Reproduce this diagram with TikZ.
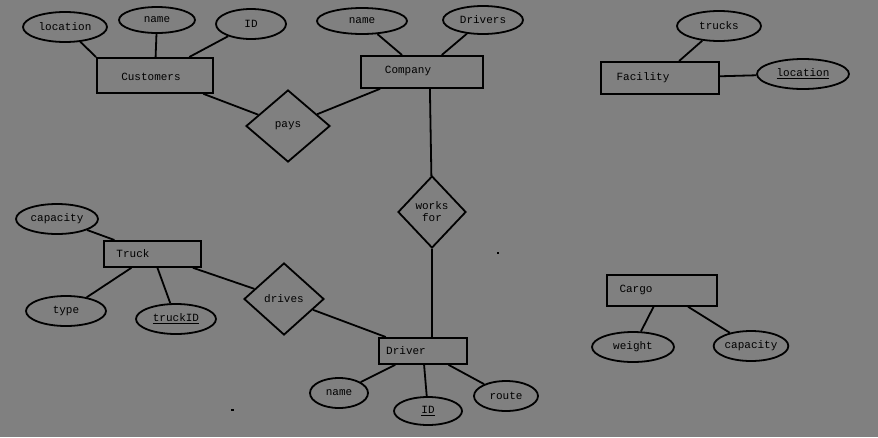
\documentclass[tikz,border=0pt]{standalone}
\usepackage{fontspec}
\setmonofont{Liberation Mono}
\usetikzlibrary{shapes.geometric}
\definecolor{bg}{HTML}{808080}
\begin{document}
\begin{tikzpicture}[x=1pt,y=-1pt,line width=1.8pt,
  every node/.style={font=\ttfamily\fontsize{11}{12}\selectfont,inner sep=0pt},
  ent/.style={draw,rectangle,anchor=north west},
  att/.style={draw,ellipse},
  rel/.style={draw,diamond}]
\fill[bg] (0,0) rectangle (878,437);
\useasboundingbox (0,0) rectangle (878,437);
% entities
\node[ent,minimum width=116pt,minimum height=35pt] (cust) at (96,57) {};
\node at (151,77) {Customers};
\node[ent,minimum width=122pt,minimum height=32pt] (comp) at (360,55) {};
\node at (408,71) {Company};
\node[ent,minimum width=118pt,minimum height=32pt] (fac) at (600,61) {};
\node at (643,78) {Facility};
\node[ent,minimum width=97pt,minimum height=26pt] (truck) at (103,240) {};
\node at (133,254) {Truck};
\node[ent,minimum width=88pt,minimum height=26pt] (drv) at (378,337) {};
\node at (406,351) {Driver};
\node[ent,minimum width=110pt,minimum height=31pt] (cargo) at (606,274) {};
\node at (636,290) {Cargo};
% attributes
\node[att,minimum width=84pt,minimum height=30pt] (loc) at (65,27) {location};
\node[att,minimum width=76pt,minimum height=26pt] (cname) at (157,20) {name};
\node[att,minimum width=70pt,minimum height=30pt] (cid) at (251,24) {ID};
\node[att,minimum width=90pt,minimum height=26pt] (coname) at (362,21) {name};
\node[att,minimum width=80pt,minimum height=28pt] (codr) at (483,20) {Drivers};
\node[att,minimum width=84pt,minimum height=30pt] (ftr) at (719,26) {trucks};
\node[att,minimum width=92pt,minimum height=30pt] (floc) at (803,74) {\underline{location}};
\node[att,minimum width=82pt,minimum height=30pt] (tcap) at (57,219) {capacity};
\node[att,minimum width=80pt,minimum height=30pt] (ttype) at (66,311) {type};
\node[att,minimum width=80pt,minimum height=30pt] (tid) at (176,319) {\underline{truckID}};
\node[att,minimum width=58pt,minimum height=30pt] (dname) at (339,393) {name};
\node[att,minimum width=68pt,minimum height=28pt] (did) at (428,411) {\underline{ID}};
\node[att,minimum width=64pt,minimum height=30pt] (droute) at (506,396) {route};
\node[att,minimum width=82pt,minimum height=30pt] (cw) at (633,347) {weight};
\node[att,minimum width=74pt,minimum height=30pt] (ccap) at (751,346) {capacity};
% relationships
\node[rel,minimum width=84pt,minimum height=72pt] (pays) at (288,126) {pays};
\node[rel,minimum width=68pt,minimum height=72pt,align=center] (works) at (432,212) {works\\for};
\node[rel,minimum width=80pt,minimum height=72pt] (drives) at (284,299) {drives};
% connectors
\draw (loc) -- (cust.north west);
\draw (cname) -- (cust);
\draw (cid) -- (cust);
\draw (coname) -- (comp);
\draw (codr) -- (comp);
\draw (ftr) -- (fac);
\draw (floc) -- (fac);
\draw (cust) -- (pays);
\draw (pays) -- (comp);
\draw (comp.south) ++(8,0) coordinate (cs);
\draw (cs) -- (works);
\draw (works) -- (drv.north -| works);
\draw (tcap) -- (truck);
\draw (ttype) -- (truck);
\draw (tid) -- (truck);
\draw (truck) -- (drives);
\draw (drives) -- (drv);
\draw (dname) -- (drv);
\draw (did) -- (drv);
\draw (droute) -- (drv);
\draw (cw) -- (cargo);
\draw (ccap) -- (cargo);
\fill (497,252) rectangle (499,254);
\fill (231,409) rectangle (234,411);
\end{tikzpicture}
\end{document}
